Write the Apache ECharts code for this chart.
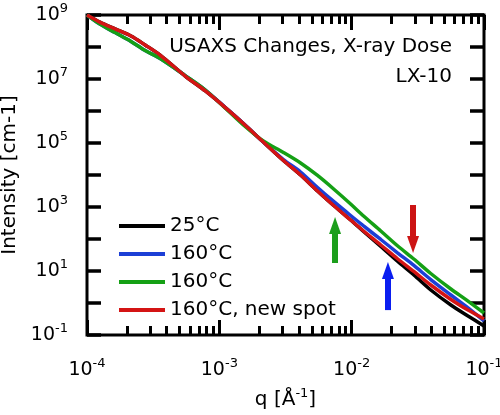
<!DOCTYPE html>
<html>
<head>
<meta charset="utf-8">
<script src="https://cdn.jsdelivr.net/npm/echarts@6.0.0/dist/echarts.min.js"></script>
<style>
  html, body { margin: 0; padding: 0; background: #fff; }
  #main { width: 500px; height: 415px; }
</style>
</head>
<body>
<div id="main"></div>
<script>
// q [1/A]
var qValues = [1.0e-4, 1.25e-4, 1.63e-4, 2.15e-4, 2.75e-4, 3.57e-4, 5.52e-4, 7.84e-4,
  1.11e-3, 1.52e-3, 2.15e-3, 3.05e-3, 4.11e-3, 5.52e-3, 7.31e-3, 9.82e-3,
  1.23e-2, 1.66e-2, 2.23e-2, 2.95e-2, 3.96e-2, 5.62e-2, 7.57e-2, 0.1];

// intensity [cm-1]
var i25C = [1.0e9, 6.0e8, 3.66e8, 2.21e8, 1.16e8, 5.62e7, 1.24e7, 4.22e6,
  1.28e6, 4.06e5, 1.07e5, 2.84e4, 1.0e4, 3.16e3, 1.11e3, 392,
  171, 58.3, 19.8, 7.5, 2.55, 0.866, 0.392, 0.191];
var i160Blue = [1.0e9, 5.23e8, 2.82e8, 1.49e8, 7.72e7, 4.37e7, 1.28e7, 4.53e6,
  1.28e6, 4.06e5, 1.07e5, 3.05e4, 1.24e4, 4.07e3, 1.49e3, 542,
  255, 96.5, 36.5, 14.9, 5.42, 1.78, 0.70, 0.274];
var i160Green = [1.0e9, 5.23e8, 2.82e8, 1.49e8, 7.72e7, 4.37e7, 1.28e7, 4.53e6,
  1.23e6, 3.65e5, 1.15e5, 5.05e4, 2.37e4, 9.65e3, 3.65e3, 1.24e3,
  523, 178, 60.4, 23.7, 8.35, 2.74, 1.15, 0.487];
var i160New = [1.0e9, 6.0e8, 3.66e8, 2.21e8, 1.16e8, 5.62e7, 1.24e7, 4.22e6,
  1.28e6, 4.06e5, 1.07e5, 2.84e4, 1.0e4, 3.16e3, 1.11e3, 392,
  178, 64.9, 23.7, 9.65, 3.65, 1.29, 0.60, 0.316];

// arrows: [q, tail I, head I]
var arrowGreen = [7.49e-3, 17.8, 264];
var arrowBlue = [1.88e-2, 0.60, 10.4];
var arrowRed = [2.91e-2, 1155, 67.3];

var xLabelExps = [-4, -3, -2, -1];
var yLabelExps = [-1, 1, 3, 5, 7, 9];

var FONT = '"DejaVu Sans"';

function pairs(ys) {
  return qValues.map(function (q, i) { return [q, ys[i]]; });
}

// minor tick positions 2..9 per decade, in log10 units
var minorLogs = [];
for (var e = -4; e < -1; e++) {
  for (var m = 2; m <= 9; m++) minorLogs.push(Math.log10(m) + e);
}

function rich(size, supSize) {
  return {
    b: { fontSize: size, fontFamily: FONT, color: '#000', lineHeight: 26 },
    s: { fontSize: supSize, fontFamily: FONT, color: '#000', verticalAlign: 'top', lineHeight: 13 }
  };
}

function expLabel(list) {
  return function (v) {
    var ex = Math.round(Math.log10(v));
    return list.indexOf(ex) >= 0 ? '{b|10}{s|' + ex + '}' : '';
  };
}

// axis lines are hidden (the grid border draws the frame), otherwise v6 drops the ticks
function tick(len, w) {
  return { show: true, inside: true, length: len, lineStyle: { color: '#000', width: w } };
}

function arrowLine(a, color) {
  return {
    silent: true,
    animation: false,
    symbol: ['none', 'triangle'],
    symbolSize: [12, 17],
    label: { show: false },
    lineStyle: { color: color, width: 6, type: 'solid' },
    data: [[{ coord: [a[0], a[1]] }, { coord: [a[0], a[2]] }]]
  };
}

var myChart = echarts.init(document.getElementById('main'));

var option = {
  animation: false,
  title: [
    { text: 'USAXS Changes, X-ray Dose', right: 48, top: 37, padding: 0,
      textStyle: { fontSize: 20, fontWeight: 'normal', fontFamily: FONT, color: '#000' } },
    { text: 'LX-10', right: 48, top: 67, padding: 0,
      textStyle: { fontSize: 20, fontWeight: 'normal', fontFamily: FONT, color: '#000' } }
  ],
  legend: {
    orient: 'vertical',
    left: 114,
    top: 211,
    icon: 'rect',
    itemWidth: 46,
    itemHeight: 4,
    itemGap: 8,
    selectedMode: false,
    textStyle: { fontSize: 20, fontFamily: FONT, color: '#000', lineHeight: 20 },
    data: ['25°C', '160°C', '160°C ', '160°C, new spot']
  },
  grid: {
    left: 87, right: 16, top: 15, bottom: 80,
    show: true, borderColor: '#000', borderWidth: 3, backgroundColor: 'transparent',
    outerBoundsMode: 'none'
  },
  xAxis: [
    {
      type: 'log', min: 1e-4, max: 0.1,
      axisLine: { show: false },
      axisTick: tick(15, 3),
      axisLabel: { margin: 22, formatter: expLabel(xLabelExps), rich: rich(19, 13) },
      splitLine: { show: false },
      name: '{b|q [Å}{s|-1}{b|]}',
      nameLocation: 'middle',
      nameGap: 52,
      nameTextStyle: { rich: rich(20, 13) }
    },
    {
      type: 'log', min: 1e-4, max: 0.1, position: 'top',
      axisLine: { show: false },
      axisTick: tick(15, 3),
      axisLabel: { show: false },
      splitLine: { show: false }
    },
    {
      type: 'value', min: -4, max: -1, position: 'bottom',
      axisLine: { show: false, onZero: false },
      axisTick: { show: true, inside: true, length: 9, customValues: minorLogs, lineStyle: { color: '#000', width: 3 } },
      axisLabel: { show: false },
      splitLine: { show: false }
    },
    {
      type: 'value', min: -4, max: -1, position: 'top',
      axisLine: { show: false, onZero: false },
      axisTick: { show: true, inside: true, length: 9, customValues: minorLogs, lineStyle: { color: '#000', width: 3 } },
      axisLabel: { show: false },
      splitLine: { show: false }
    }
  ],
  yAxis: [
    {
      type: 'log', min: 0.1, max: 1e9, splitNumber: 10,
      axisLine: { show: false, onZero: false },
      axisTick: tick(14, 3.5),
      axisLabel: { margin: 19, formatter: expLabel(yLabelExps), rich: rich(19, 13) },
      splitLine: { show: false },
      name: 'Intensity [cm-1]',
      nameLocation: 'middle',
      nameGap: 51,
      nameTextStyle: { fontSize: 20, fontFamily: FONT, color: '#000' }
    },
    {
      type: 'log', min: 0.1, max: 1e9, splitNumber: 10, position: 'right',
      axisLine: { show: false, onZero: false },
      axisTick: tick(14, 3.5),
      axisLabel: { show: false },
      splitLine: { show: false }
    }
  ],
  series: [
    {
      name: '25°C', type: 'line', data: pairs(i25C), symbol: 'none', smooth: 0.3,
      color: '#000000', lineStyle: { width: 3.5 }
    },
    {
      name: '160°C', type: 'line', data: pairs(i160Blue), symbol: 'none', smooth: 0.3,
      color: '#1c3fd6', lineStyle: { width: 3.5 },
      markLine: arrowLine(arrowBlue, '#0a1ef0')
    },
    {
      name: '160°C ', type: 'line', data: pairs(i160Green), symbol: 'none', smooth: 0.3,
      color: '#15a015', lineStyle: { width: 3.5 },
      markLine: arrowLine(arrowGreen, '#1c9e1c')
    },
    {
      name: '160°C, new spot', type: 'line', data: pairs(i160New), symbol: 'none', smooth: 0.3,
      color: '#d41414', lineStyle: { width: 3.5 },
      markLine: arrowLine(arrowRed, '#cc1414')
    }
  ]
};

myChart.setOption(option);
</script>
</body>
</html>
